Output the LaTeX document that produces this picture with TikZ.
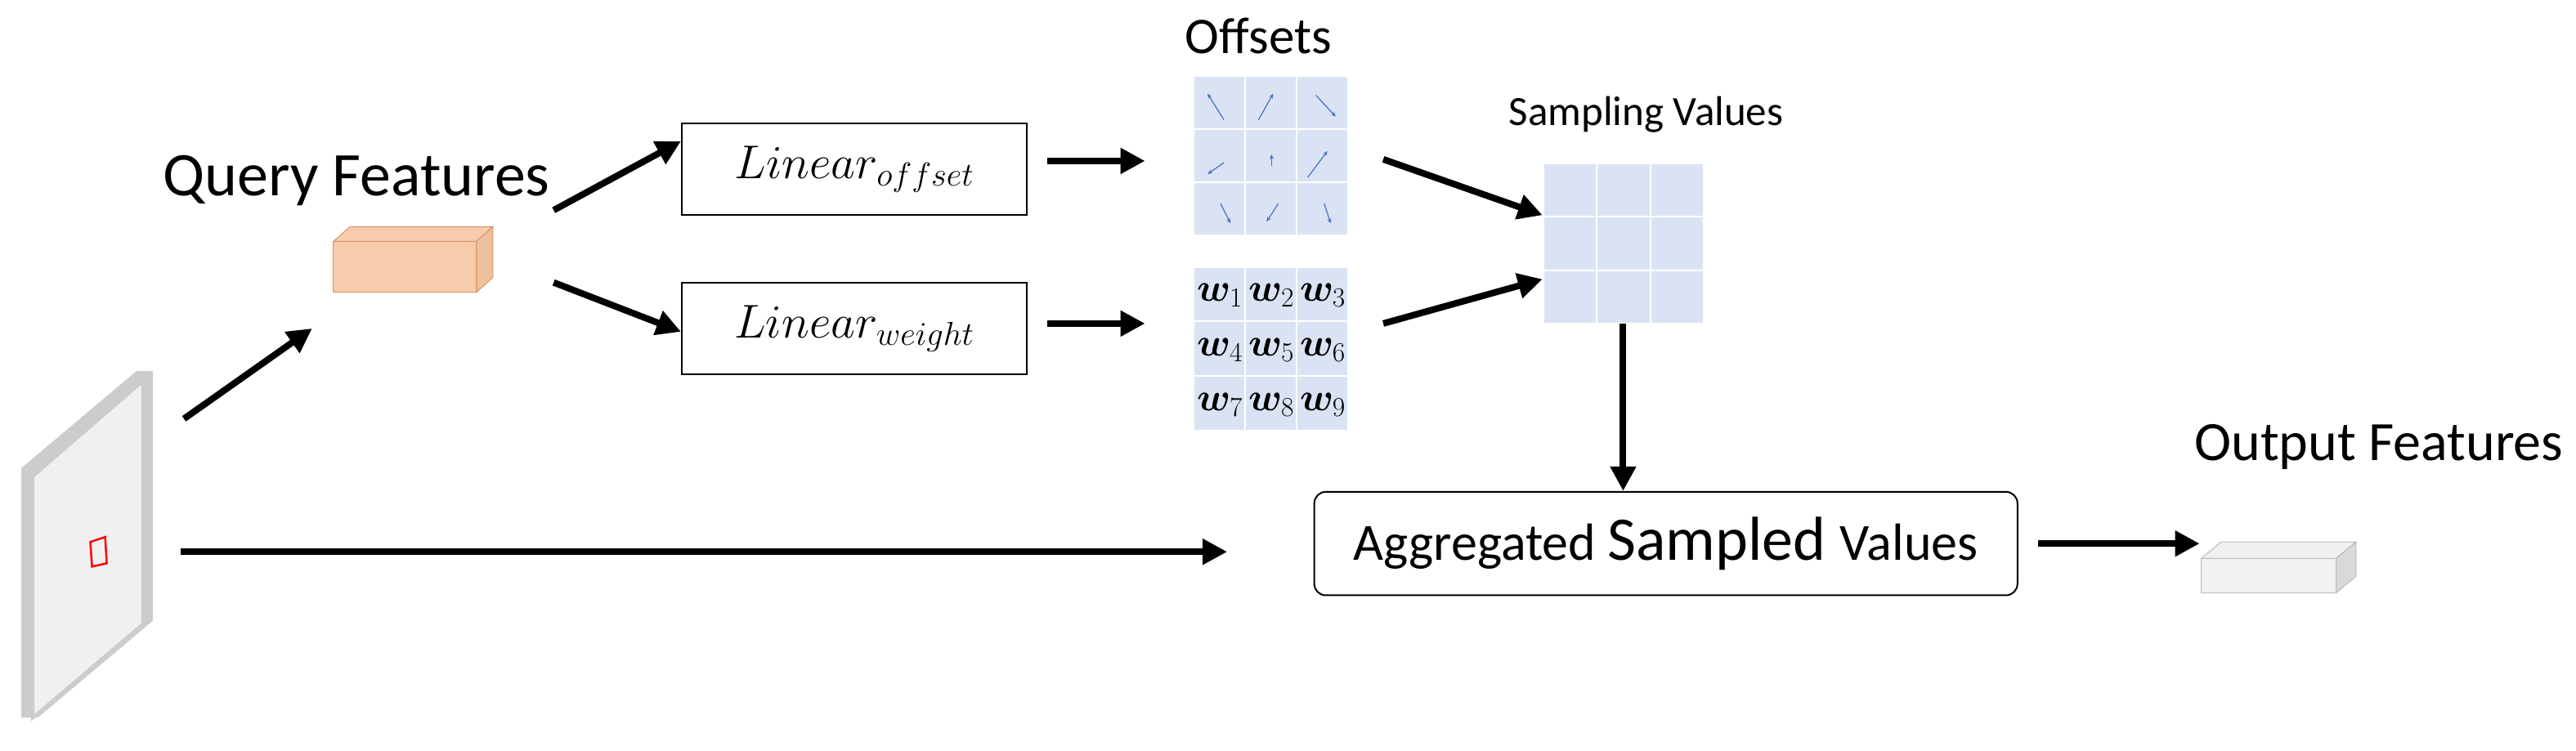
\RequirePackage{fix-cm}
\documentclass[tikz,border=0pt]{standalone}
\usepackage{amsmath,bm}
\usepackage{fontspec}
\setmainfont{Carlito}
\usetikzlibrary{arrows.meta}
\definecolor{cellblue}{HTML}{DAE3F3}
\definecolor{qfill}{HTML}{F8CBAD}
\definecolor{qdraw}{HTML}{D4956A}
\definecolor{offarr}{HTML}{4472C4}
\begin{document}
\begin{tikzpicture}[x=2.01pt,y=-2.01pt,
  arr/.style={line width=8pt,-{Triangle[length=30pt,width=30pt]}},
  lbl/.style={inner sep=0},
  lin/.style={draw,line width=2pt,minimum width=210*2.01pt,minimum height=56*2.01pt,inner sep=0,font=\fontsize{58}{62}\selectfont},
  oa/.style={offarr,line width=1.2pt,-{Stealth[length=6pt,width=5pt]}}]
\useasboundingbox (0,0) rectangle (1568,457);
% feature map panel
\fill[gray!40] (13,285) -- (83,226) -- (93,226) -- (93,378) -- (23,437) -- (13,437) -- cycle;
\filldraw[fill=gray!12,draw=gray!40,line width=4pt] (20,290) -- (87,232) -- (87,380) -- (20,437) -- cycle;
\draw[red,line width=2.5pt] (55,330) -- (64,327) -- (65,343) -- (56,345) -- cycle;
\coordinate (p1) at (112,255); \coordinate (p2) at (110,336);
% query box
\filldraw[fill=qfill,draw=qdraw,line width=1pt] (203,147) -- (213,138) -- (300,138) -- (290,147) -- cycle;
\filldraw[fill=qfill!85!brown,draw=qdraw,line width=1pt] (290,147) -- (300,138) -- (300,169) -- (290,178) -- cycle;
\filldraw[fill=qfill,draw=qdraw,line width=1pt] (203,147) rectangle (290,178);
\node[minimum width=100*2.01pt,minimum height=42*2.01pt] (q) at (250,160) {};
\node[lbl,font=\fontsize{76}{80}\selectfont] (ql) at (217,110) {Query Features};
% linear boxes
\node[lin] (lo) at (520,103) {$Linear_{offset}$};
\node[lin] (lw) at (520,200) {$Linear_{weight}$};
% grids
\node[lbl,font=\fontsize{63}{66}\selectfont] (ol) at (766,22) {Offsets};
\foreach \i in {0,1,2}{\foreach \j in {0,1,2}{
  \fill[cellblue] (727+\i*31.3,47+\j*32.3) rectangle ++(30.3,31.3);
  \fill[cellblue] (727+\i*31.3,163+\j*33.3) rectangle ++(30.3,32.3);
  \fill[cellblue] (940+\i*32.5,100+\j*32.5) rectangle ++(31.5,31.5);}}
\draw[oa] (745,73) -- (735,57);
\draw[oa] (766,73) -- (775,57);
\draw[oa] (801,58) -- (813,71);
\draw[oa] (745,99) -- (735,106);
\draw[oa] (774,101) -- (774,94);
\draw[oa] (796,108) -- (808,92);
\draw[oa] (743,124) -- (749,136);
\draw[oa] (778,124) -- (771,135);
\draw[oa] (806,124) -- (810,136);
\node[minimum width=95*2.01pt,minimum height=98*2.01pt] (og) at (773,95) {};
\foreach \k/\i/\j in {1/0/0,2/1/0,3/2/0,4/0/1,5/1/1,6/2/1,7/0/2,8/1/2,9/2/2}
  \node[font=\fontsize{48}{50}\selectfont,inner sep=0] at (742.5+\i*31.3,180+\j*33.3) {$\bm{w}_{\k}$};
\node[minimum width=95*2.01pt,minimum height=100*2.01pt] (wg) at (773,213) {};
\node[lbl,font=\fontsize{51}{54}\selectfont] (sl) at (1002,70) {Sampling Values};
\node[minimum width=98*2.01pt,minimum height=98*2.01pt] (sg) at (988,148) {};
% aggregated
\node[draw,rounded corners=14pt,line width=2pt,minimum width=428*2.01pt,minimum height=63*2.01pt,inner sep=0] (ag) at (1014,331)
 {\fontsize{64}{68}\selectfont Aggregated \fontsize{76}{80}\selectfont Sampled \fontsize{64}{68}\selectfont Values};
% output box
\filldraw[fill=gray!12,draw=gray!55,line width=1pt] (1340,340) -- (1352,330) -- (1434,330) -- (1422,340) -- cycle;
\filldraw[fill=gray!30,draw=gray!55,line width=1pt] (1422,340) -- (1434,330) -- (1434,351) -- (1422,361) -- cycle;
\filldraw[fill=gray!10,draw=gray!55,line width=1pt] (1340,340) rectangle (1422,361);
\node[minimum width=96*2.01pt,minimum height=33*2.01pt] (out) at (1387,346) {};
\node[lbl,font=\fontsize{68}{72}\selectfont] (olab) at (1448,272) {Output Features};
% arrows
\coordinate (a1) at (190,200);
\draw[arr] (p1) -- (a1);
\draw[arr] (337,128) -- (lo.west|-0,86) ;
\draw[arr] (337,172) -- (lo.west|-0,202);
\draw[arr] (lo.east) ++(12,-5) coordinate (lo1) -- (697,98);
\draw[arr] (lw.east) ++(12,-3) coordinate (lw1) -- (697,197);
\draw[arr] (842,97) -- (sg.west|-0,131);
\draw[arr] (842,197) -- (sg.west|-0,170);
\draw[arr] (sg.south) -- (ag.north-|sg);
\draw[arr] (p2) -- (747,336);
\draw[arr] (ag.east) ++(12,0) -- (out.west|-ag.east);
\end{tikzpicture}
\end{document}
